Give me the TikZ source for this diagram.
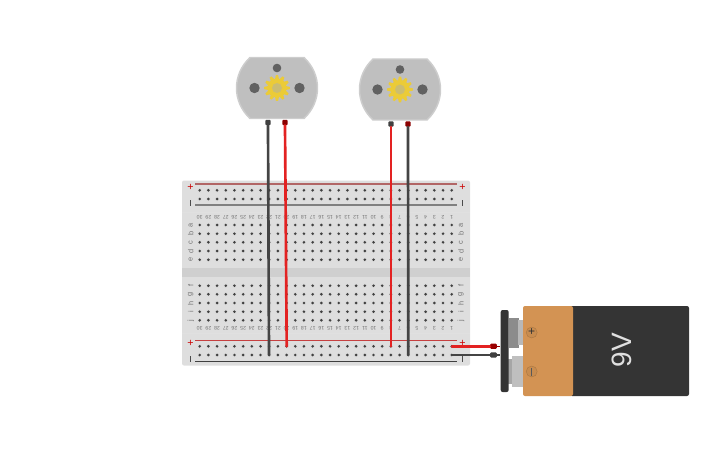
\documentclass[tikz,border=0pt]{standalone}
\usepackage{fontspec}
\setsansfont{Liberation Sans}
\definecolor{bb}{HTML}{DEDEDE}
\definecolor{bbdark}{HTML}{CFCFCF}
\definecolor{wred}{HTML}{E32222}
\definecolor{wblack}{HTML}{444444}
\definecolor{motor}{HTML}{BFBFBF}
\definecolor{motoredge}{HTML}{CDCDCD}
\definecolor{orangeb}{HTML}{D39353}
\definecolor{darkb}{HTML}{343434}
\definecolor{gearc}{HTML}{EBCB38}
\definecolor{gearm}{HTML}{CBBD72}
\tikzset{
  wire/.style={line width=2pt,line cap=round},
  rw/.style={wire,draw=wred},
  kw/.style={wire,draw=wblack},
  lab/.style={font=\sffamily\fontsize{3.9}{5}\selectfont,text=black!55,inner sep=0pt},
  rowlab/.style={font=\sffamily\fontsize{5.5}{6}\selectfont,text=black!55,inner sep=0pt,rotate=90},
  pinb/.style={fill=black!75,draw=none,rounded corners=0.6pt,minimum width=3.8pt,minimum height=4pt,inner sep=0pt},
  pinr/.style={fill=red!55!black,draw=none,rounded corners=0.6pt,minimum width=3.8pt,minimum height=4pt,inner sep=0pt},
  pm/.style={font=\sffamily\fontsize{8}{9}\selectfont,inner sep=0pt},
}
\newcommand{\motorbody}[2]{%
  \begin{scope}[shift={(#1,#2)}]
    \draw[draw=motoredge,line width=1.1pt,fill=motor]
      (-27,-30.5) -- (27,-30.5) .. controls (36,-22) and (40.5,-11) .. (40.5,0)
      .. controls (40.5,11) and (36,22) .. (27,30.5) -- (-27,30.5)
      .. controls (-36,22) and (-40.5,11) .. (-40.5,0)
      .. controls (-40.5,-11) and (-36,-22) .. (-27,-30.5) -- cycle;
    \fill[black!62] (0,-20) circle (4.3);
    \fill[black!62] (-22.5,0) circle (5.2);
    \fill[black!62] (22.5,0) circle (5.2);
    \fill[gearc] (0,0) circle (9.6);
    \foreach \a in {0,30,...,330}{
      \fill[gearc,rotate=\a] (8,-2.2) -- (12.8,-1.1) -- (12.8,1.1) -- (8,2.2) -- cycle;
    }
    \fill[gearm] (0,0) circle (5);
  \end{scope}}
\begin{document}
\begin{tikzpicture}[x=0.75pt,y=-0.75pt]
\useasboundingbox (0,0) rectangle (725,453);
% breadboard
\fill[bb,rounded corners=1.5pt] (182,180.5) rectangle (470,365.5);
\fill[bbdark] (182,268) rectangle (470,277);
\draw[black!12,line width=.5pt] (182,212) -- (470,212);
\draw[black!12,line width=.5pt] (182,333) -- (470,333);
\draw[red!50!black!60!white,line width=.8pt] (195,184) -- (457,184);
\draw[black!50,line width=.9pt] (195,205) -- (457,205);
\draw[red!70!black!75!white,line width=.8pt] (195,340.3) -- (457,340.3);
\draw[black!75,line width=.9pt] (195,361.3) -- (457,361.3);
% rail marks
\node[pm,text=red!80!black] (pl1) at (190.5,187) {+};
\node[pm,text=red!80!black] (pl2) at (462.5,187) {+};
\node[pm,text=red!80!black] (pl3) at (190.5,343) {+};
\node[pm,text=red!80!black] (pl4) at (462.5,343) {+};
\fill[black!70] (189.9,200) rectangle (190.7,206);
\fill[black!70] (461.9,200) rectangle (462.7,206);
\fill[black!70] (189.9,356) rectangle (190.7,362);
\fill[black!70] (461.9,356) rectangle (462.7,362);
% holes
\foreach \i in {0,...,29}{
  \pgfmathsetmacro{\xx}{199.7+8.69*\i}
  \foreach \yy in {190.3,199,225,233.7,242.3,251,259.7,285.7,294.3,303,311.7,320.3,346.3,355}{
    \fill[black!14] (\xx,\yy) circle (2.3);
    \fill[black!75] (\xx,\yy) circle (1.45);
  }
  \pgfmathtruncatemacro{\nn}{30-\i}
  \node[lab,rotate=180] (ct\i) at (\xx,217.5) {\nn};
  \node[lab,rotate=180] (cb\i) at (\xx,328.5) {\nn};
}
% row labels
\foreach \ll/\yy in {a/225,b/233.7,c/242.3,d/251,e/259.7,f/285.7,g/294.3,h/303,i/311.7,j/320.3}{
  \node[rowlab] (rl\ll) at (190.7,\yy) {\ll};
  \node[rowlab] (rr\ll) at (461,\yy) {\ll};
}
% motors
\motorbody{277}{88}
\motorbody{400}{89.5}
\node[pinb] (m1k) at (268,122.5) {};
\node[pinr] (m1r) at (285,122.5) {};
\node[pinb] (m2k) at (391,124) {};
\node[pinr] (m2r) at (408,124) {};
% wire ends on the board
\coordinate (b1k) at (269,355);
\coordinate (b1r) at (286.7,346.3);
\coordinate (b2r) at (391,346.3);
\coordinate (b2k) at (408.3,355);
\draw[kw] (m1k.south) -- (b1k);
\draw[rw] (m1r.south) -- (b1r);
\draw[rw] (m2k.south) -- (b2r);
\draw[kw] (m2r.south) -- (b2k);
% battery
\fill[black!45] (509,317.7) rectangle (518.5,347.7);
\fill[black!28] (518,320) rectangle (525,345);
\fill[black!35] (508,359) rectangle (513,384);
\fill[black!25] (512,356) rectangle (525,387);
\node[fill=darkb,rounded corners=1.5pt,minimum width=6pt,minimum height=61.5pt,inner sep=0pt] (clip) at (504.7,351) {};
\fill[darkb,rounded corners=1.5pt] (570,306) rectangle (689,396);
\fill[orangeb,rounded corners=1.5pt] (523,306) -- (573,306) -- (573,396) -- (523,396) -- cycle;
\draw[orangeb!80!black,fill=orangeb!95!black,line width=.3pt] (531.7,332.5) circle (5.5);
\draw[orangeb!80!black,fill=orangeb!95!black,line width=.3pt] (531.7,371.5) circle (5.5);
\node[font=\sffamily\fontsize{9}{10}\selectfont,text=black!80,inner sep=0pt] (bp) at (531.7,332.3) {+};
\fill[black!65] (531.2,367.5) rectangle (532.2,375.5);
\node[rotate=90,font=\sffamily\fontsize{21}{24}\selectfont,text=black!12,inner sep=0pt] (nine) at (622,350) {9V};
% battery leads
\coordinate (b3r) at (452,346.3);
\coordinate (b3k) at (452,355);
\node[fill=red!60!black,rounded corners=.8pt,minimum width=5pt,minimum height=4pt,inner sep=0pt] (cr) at (493.5,346.3) {};
\node[fill=black!75,rounded corners=.8pt,minimum width=5pt,minimum height=4pt,inner sep=0pt] (ck) at (493.5,355) {};
\draw[rw] (b3r) -- (cr.west);
\draw[kw] (b3k) -- (ck.west);
\draw[red!60!black,line width=.8pt] (cr.east) -- (clip.west |- cr.east);
\draw[black!75,line width=.8pt] (ck.east) -- (clip.west |- ck.east);
\end{tikzpicture}
\end{document}
